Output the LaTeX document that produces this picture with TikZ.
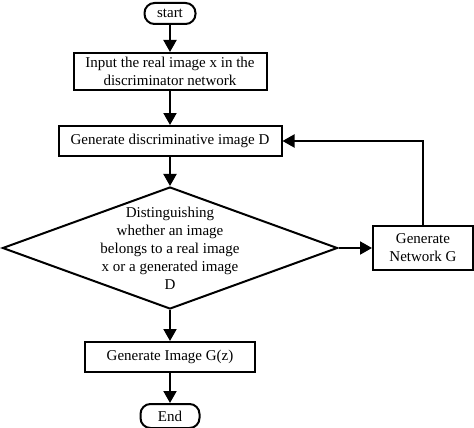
\documentclass[tikz,border=0pt]{standalone}
\usepackage{fontspec}
\setmainfont{Liberation Serif}
\usetikzlibrary{shapes.geometric, arrows.meta, positioning}

\begin{document}
\begin{tikzpicture}[x=1pt, y=-1pt, line width=2pt,
    every node/.style={font=\fontsize{15}{18}\selectfont}]
    % Styles
    \tikzstyle{block} = [rectangle, draw, align=center, inner sep=0pt]
    \tikzstyle{term} = [rectangle, draw, rounded corners=10pt, inner sep=0pt]
    \tikzstyle{decision} = [diamond, draw, inner sep=0pt, minimum width=335pt, minimum height=122pt]
    \tikzstyle{arrow} = [-{Triangle[length=12pt, width=13pt]}]

    \useasboundingbox (0,0) rectangle (474,428);

    % Nodes
    \node at (170,13.5) [term, minimum width=51pt, minimum height=21pt] (start) {start};
    \node at (170,71.5) [block, minimum width=193pt, minimum height=37pt] (input)
        {Input the real image x in the\\discriminator network};
    \node at (170,141) [block, minimum width=223pt, minimum height=30pt] (disc)
        {Generate discriminative image D};
    \node at (170,248) [decision, label={[align=center, font=\fontsize{15}{18}\selectfont]center:Distinguishing\\whether an image\\belongs to a real image\\x or a generated image\\D}] (dec) {};
    \node at (423,248) [block, minimum width=100pt, minimum height=44pt] (gen)
        {Generate\\Network G};
    \node at (170,357) [block, minimum width=170pt, minimum height=30pt] (img)
        {Generate Image G(z)};
    \node at (170,416) [term, minimum width=59pt, minimum height=24pt] (end) {End};

    % Connections
    \draw[arrow] (start) -- (input);
    \draw[arrow] (input) -- (disc);
    \draw[arrow] (disc) -- (dec);
    \draw[arrow] (dec) -- (gen);
    \draw[arrow] (gen.north) |- (disc.east);
    \draw[arrow] (dec) -- (img);
    \draw[arrow] (img) -- (end);
\end{tikzpicture}
\end{document}
